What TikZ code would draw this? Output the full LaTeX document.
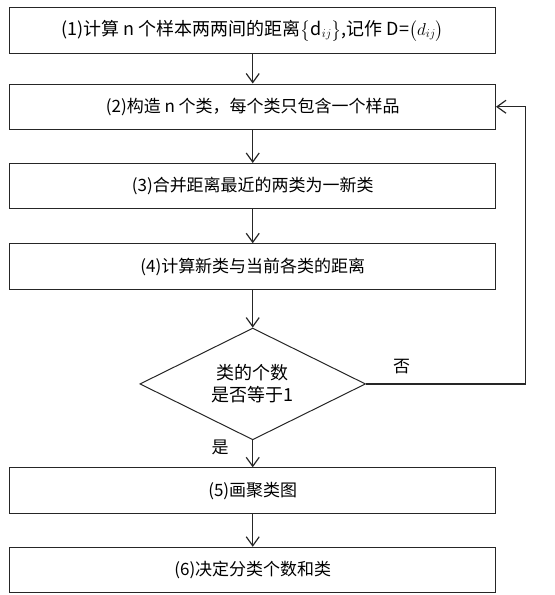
\documentclass[tikz,border=0pt]{standalone}
\usepackage{amsmath}
\usepackage{fontspec}
\setmainfont{Noto Sans CJK SC}
\usepackage{tikz}
\usetikzlibrary{shapes.geometric, arrows.meta, positioning}
\definecolor{linegray}{HTML}{262626}
\tikzset{
  stepbox/.style={draw=linegray, line width=1pt, minimum width=17.08cm, minimum height=1.6cm,
                  font=\fontsize{17}{20}\selectfont, text=black, align=center},
  decide/.style={diamond, aspect=2, draw=linegray, line width=1pt, minimum width=7.94cm,
                 minimum height=3.93cm, inner sep=0pt, font=\fontsize{18}{22}\selectfont, align=center},
  flowarrow/.style={-{Straight Barb[length=9pt, width=13pt]}, line width=1.2pt, linegray},
  flowlabel/.style={font=\fontsize{17}{20}\selectfont, text=black},
}

\begin{document}
\begin{tikzpicture}
  \useasboundingbox (0,0) rectangle (19.49,-20.93);

  % steps
  \node[stepbox, font=\fontsize{18}{22}\selectfont] (s1) at (8.89,-1.07)
    {(1)计算 n 个样本两两间的距离$\big\{\mathrm{d}_{ij}\big\}$,记作 D=$\big(d_{ij}\big)$};
  \node[stepbox, below=1.05cm of s1] (s2) {(2)构造 n 个类，每个类只包含一个样品};
  \node[stepbox, below=1.16cm of s2] (s3) {(3)合并距离最近的两类为一新类};
  \node[stepbox, below=1.19cm of s3] (s4) {(4)计算新类与当前各类的距离};
  \node[decide, below=1.33cm of s4] (dec) {类的个数\\是否等于1};
  \node[stepbox, below=0.95cm of dec] (s5) {(5)画聚类图};
  \node[stepbox, below=1.16cm of s5] (s6) {(6)决定分类个数和类};

  % arrows
  \draw[flowarrow] (s1) -- (s2);
  \draw[flowarrow] (s2) -- (s3);
  \draw[flowarrow] (s3) -- (s4);
  \draw[flowarrow] (s4) -- (dec);
  \draw[flowarrow] (dec) -- (s5);
  \draw[flowarrow] (s5) -- (s6);

  % loop back
  \draw[flowarrow] (dec.east) -- ++(5.62,0) |- (s2.east);
  \node[flowlabel] (no) at ([xshift=1.25cm, yshift=0.6cm]dec.east) {否};
  \node[flowlabel] (yes) at ([xshift=-1.15cm, yshift=-0.25cm]dec.south) {是};
\end{tikzpicture}
\end{document}
